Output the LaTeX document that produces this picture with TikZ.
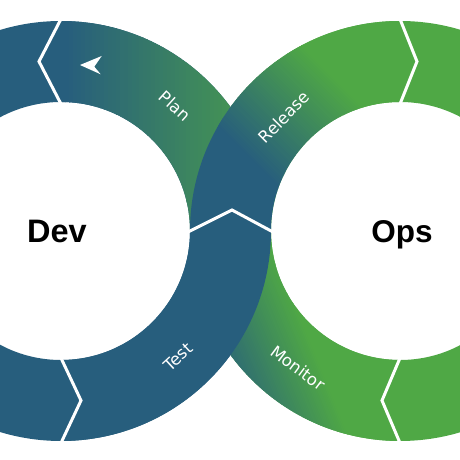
\documentclass[tikz,border=0pt]{standalone}
\usepackage{fontspec}
\setmainfont{Liberation Sans}
\newfontfamily\lblfont{DejaVu Sans}
\definecolor{devblue}{HTML}{275E7D}
\definecolor{opsgreen}{HTML}{4FA845}
\tikzset{
  divider/.style={draw=white, line width=3pt, line join=miter},
  lbl/.style={text=white, font=\lblfont\fontsize{16.5}{19}\selectfont, inner sep=0pt},
  devtxt/.style={text=black, font=\bfseries\fontsize{32.5}{38}\selectfont, inner sep=0pt, anchor=base},
  opstxt/.style={text=black, font=\bfseries\fontsize{31.5}{38}\selectfont, inner sep=0pt, anchor=base},
}
\def\planpath{(271,229) arc[start angle=0,end angle=90,radius=210] -- (39,398.5) -- (61,358) arc[start angle=90,end angle=0,radius=129] -- cycle}
\def\releasepath{(190,229) -- (232,250) -- (271,229) arc[start angle=180,end angle=90,radius=129] -- (417,398.5) -- (400,439) arc[start angle=90,end angle=180,radius=210] -- cycle}
\def\testpath{(190,229) -- (232,250) -- (271,229) arc[start angle=0,end angle=-90,radius=210] -- (81,59.5) -- (61,100) arc[start angle=-90,end angle=0,radius=129] -- cycle}
\def\monitorpath{(190,229) arc[start angle=180,end angle=270,radius=210] -- (382,59.5) -- (400,100) arc[start angle=270,end angle=180,radius=129] -- cycle}
\newcommand{\stripfill}[3]{%
  \begin{scope}[shift={#1}, rotate=#2]
    \fill[devblue] (-900,-900) rectangle (0.5,900);
    \foreach \i in {0,...,59}{
      \pgfmathtruncatemacro\gpct{(\i+0.5)*100/60}
      \fill[opsgreen!\gpct!devblue] ({\i*#3/60},-900) rectangle ({(\i+1)*#3/60+0.6},900);
    }
    \fill[opsgreen] (#3,-900) rectangle (1500,900);
  \end{scope}}
\begin{document}
\begin{tikzpicture}[x=1pt,y=1pt]
  \useasboundingbox (0,0) rectangle (460,460);
  \fill[white] (0,0) rectangle (460,460);
  \clip (0,0) rectangle (460,460);
  % base rings
  \fill[devblue, even odd rule] (61,229) circle (210) (61,229) circle (129);
  \fill[opsgreen, even odd rule] (400,229) circle (210) (400,229) circle (129);
  % Plan
  \begin{scope}
    \clip \planpath;
    \stripfill{(65,0)}{0}{235}
  \end{scope}
  % Monitor
  \begin{scope}
    \clip \monitorpath;
    \stripfill{(216,84)}{22}{100}
  \end{scope}
  % Release
  \begin{scope}
    \clip \releasepath;
    \stripfill{(275,275)}{45}{117}
  \end{scope}
  % Test
  \fill[devblue] \testpath;
  % dividers
  \draw[divider] (61,441) -- (39,398.5) -- (61,356);
  \draw[divider] (61,17) -- (81,59.5) -- (61,102);
  \draw[divider] (188,228) -- (232,250) -- (273,228);
  \draw[divider] (400,441) -- (417,398.5) -- (400,356);
  \draw[divider] (400,17) -- (382,59.5) -- (400,102);
  % arrow icon
  \fill[white] (80,395) -- (101.7,404) -- (94.3,393.3) -- (100.7,385.7) -- cycle;
  % labels
  \node[lbl, rotate=-42] (plan) at (175,354) {Plan};
  \node[lbl, rotate=45] (release) at (284,343) {Release};
  \node[lbl, rotate=42.6] (test) at (178,103) {Test};
  \node[lbl, rotate=-36.7] (monitor) at (298,92) {Monitor};
  \node[devtxt] (dev) at (57,217) {Dev};
  \node[opstxt] (ops) at (402,217) {Ops};
\end{tikzpicture}
\end{document}
